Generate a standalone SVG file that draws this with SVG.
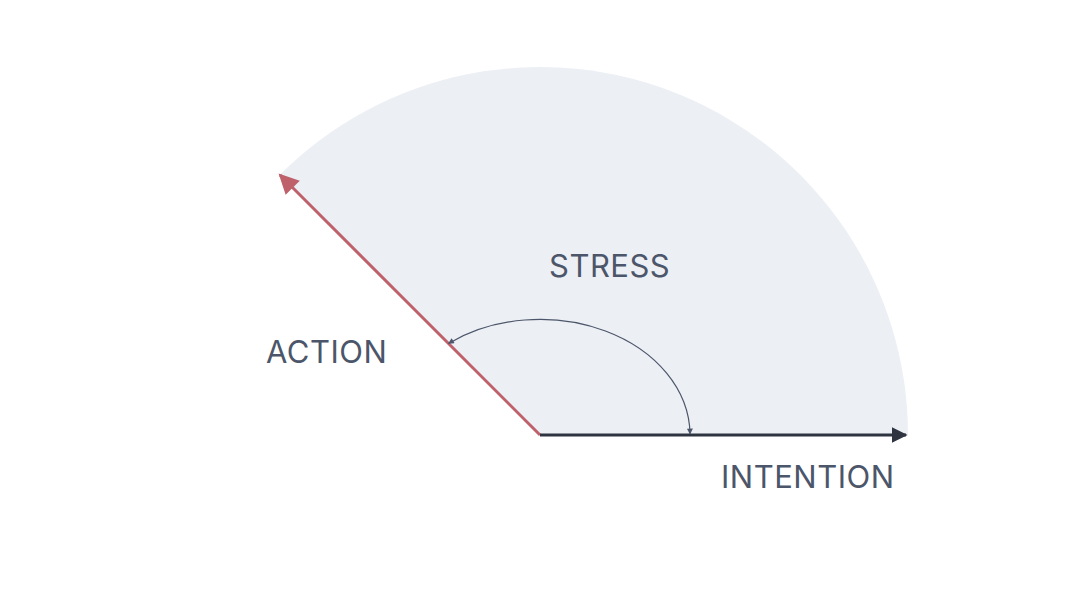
<svg xmlns="http://www.w3.org/2000/svg" width="1080" height="600" viewBox="0 0 1080 600">
  <defs>
    <style>
      .label { font-family: Inter, "Liberation Sans", sans-serif; font-size: 31px; letter-spacing: 0.5px; fill: #4c566a; }
    </style>
    <marker id="redHead" viewBox="0 0 10 10" refX="9" refY="5" markerUnits="userSpaceOnUse" markerWidth="22" markerHeight="20" orient="auto">
      <path d="M0 0 L10 5 L0 10 Z" fill="#bf616a"/>
    </marker>
    <marker id="darkHead" viewBox="0 0 10 10" refX="9" refY="5" markerUnits="userSpaceOnUse" markerWidth="16" markerHeight="16" orient="auto">
      <path d="M0 0 L10 5 L0 10 Z" fill="#2e3440"/>
    </marker>
    <marker id="smallHead" viewBox="0 0 10 10" refX="9" refY="5" markerUnits="userSpaceOnUse" markerWidth="7" markerHeight="6" orient="auto-start-reverse">
      <path d="M0 0 L10 5 L0 10 Z" fill="#4c566a"/>
    </marker>
  </defs>
  <rect width="1080" height="600" fill="#ffffff"/>
  <g id="stress-sector">
    <path d="M540 435 L908 435 A368 368 0 0 0 279.8 174.8 Z" fill="#eceff4"/>
  </g>
  <g id="connectors">
    <path d="M540 435 L280 175" stroke="#bf616a" stroke-width="3" fill="none" marker-end="url(#redHead)"/>
    <path d="M540 435 L906 435" stroke="#2e3440" stroke-width="3" fill="none" marker-end="url(#darkHead)"/>
    <path d="M690 434 A150 116 0 0 0 448.5 343.5" stroke="#4c566a" stroke-width="1.2" fill="none" marker-start="url(#smallHead)" marker-end="url(#smallHead)"/>
  </g>
  <g id="stress-label">
    <text class="label" x="549" y="277">STRESS</text>
  </g>
  <g id="action-label">
    <text class="label" x="266" y="363">ACTION</text>
  </g>
  <g id="intention-label">
    <text class="label" x="721" y="488">INTENTION</text>
  </g>
</svg>
